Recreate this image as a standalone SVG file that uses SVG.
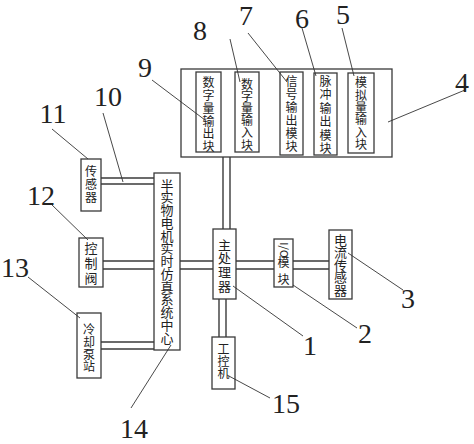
<svg xmlns="http://www.w3.org/2000/svg" width="474" height="444" viewBox="0 0 474 444">
<style>
.box{fill:#fff;stroke:#3a3a3a;stroke-width:1.3}
.cn{font-family:"Noto Sans CJK SC","Noto Sans CJK JP",sans-serif;font-size:12px;fill:#222;text-anchor:middle}
.num{font-family:"Liberation Serif","Times New Roman",serif;font-size:28px;fill:#222;text-anchor:middle}
.dl{stroke:#3a3a3a;stroke-width:1.4;fill:none}
.ld{stroke:#333;stroke-width:0.9;fill:none}
</style>
<rect width="474" height="444" fill="#fff"/>
<g id="connectors">
<line class="dl" x1="101" y1="178" x2="154" y2="178"/><line class="dl" x1="101" y1="184" x2="154" y2="184"/>
<line class="dl" x1="103" y1="261" x2="154" y2="261"/><line class="dl" x1="103" y1="269" x2="154" y2="269"/>
<line class="dl" x1="101" y1="342" x2="154" y2="342"/><line class="dl" x1="101" y1="349" x2="154" y2="349"/>
<line class="dl" x1="180" y1="261" x2="213" y2="261"/><line class="dl" x1="180" y1="269" x2="213" y2="269"/>
<line class="dl" x1="236" y1="261" x2="274" y2="261"/><line class="dl" x1="236" y1="269" x2="274" y2="269"/>
<line class="dl" x1="293" y1="261" x2="329" y2="261"/><line class="dl" x1="293" y1="269" x2="329" y2="269"/>
<line class="dl" x1="223" y1="157" x2="223" y2="229"/><line class="dl" x1="230" y1="157" x2="230" y2="229"/>
<line class="dl" x1="219" y1="299" x2="219" y2="337"/><line class="dl" x1="226" y1="299" x2="226" y2="337"/>
</g>
<g id="n4"><rect class="box" x="181" y="69" width="211" height="88"/></g>
<g id="n9"><rect class="box" x="196" y="72" width="25" height="80"/>
<text class="cn" x="208.5 208.5 208.5 208.5 208.5 208.5" y="87 100 113 126 138 151">数字量输出块</text></g>
<g id="n8"><rect class="box" x="235" y="72" width="24" height="80"/>
<text class="cn" x="247 247 247 247 247 247" y="89 101 113 125 137 150">数字量输入块</text></g>
<g id="n7"><rect class="box" x="280" y="72" width="23" height="83"/>
<text class="cn" x="291.5 291.5 291.5 291.5 291.5 291.5" y="86 99 112 125 138 151">信号输出模块</text></g>
<g id="n6"><rect class="box" x="314" y="73" width="23" height="82"/>
<text class="cn" x="325.5 325.5 325.5 325.5 325.5 325.5" y="86 99 113 126 140 153">脉冲输出模块</text></g>
<g id="n5"><rect class="box" x="348" y="73" width="26" height="80"/>
<text class="cn" x="361 361 361 361 361 361" y="87 100 112 124 137 149">模拟量输入块</text></g>
<g id="n11"><rect class="box" x="81" y="159" width="20" height="52"/>
<text class="cn" x="91 91 91" y="176 189 202">传感器</text></g>
<g id="n12"><rect class="box" x="79" y="238" width="24" height="49"/>
<text class="cn" style="font-size:13px" x="91 91 91" y="253 268 283">控制阀</text></g>
<g id="n13"><rect class="box" x="77" y="313" width="24" height="65"/>
<text class="cn" x="89 89 89 89" y="334 347 359 371">冷却泵站</text></g>
<g id="n14"><rect class="box" x="154" y="173" width="26" height="177"/>
<text class="cn" style="font-size:13px" x="167 167 167 167 167 167 167 167 167 167 167 167 167" y="189.5 202.2 215 227.7 240.5 253.2 266 278.7 291.5 304.2 317 329.7 342.5">半实物电机实时仿真系统中心</text></g>
<g id="n1"><rect class="box" x="213" y="229" width="23" height="70"/>
<text class="cn" style="font-size:13px" x="224.5 224.5 224.5 224.5" y="250 263 277 291">主处理器</text></g>
<g id="n2"><rect class="box" x="274" y="239" width="19" height="48"/>
<text class="cn" style="font-size:11px" transform="translate(283.5,250) rotate(90)" x="0" y="4">I/O</text>
<text class="cn" x="283.5 283.5" y="267 284">模块</text></g>
<g id="n3"><rect class="box" x="329" y="230" width="23" height="69"/>
<text class="cn" style="font-size:13px" x="340.5 340.5 340.5 340.5 340.5" y="244.5 257 269.5 282 294.5">电流传感器</text></g>
<g id="n15"><rect class="box" x="212" y="337" width="23" height="52"/>
<text class="cn" x="223.5 223.5 223.5" y="354 366 378">工控机</text></g>
<g id="leaders">
<line class="ld" x1="152" y1="80" x2="205" y2="120"/>
<line class="ld" x1="230" y1="39" x2="240" y2="82"/>
<line class="ld" x1="248" y1="33" x2="287" y2="82"/>
<line class="ld" x1="302" y1="28" x2="316" y2="76"/>
<line class="ld" x1="342" y1="28" x2="354" y2="76"/>
<line class="ld" x1="465" y1="90" x2="388" y2="122"/>
<line class="ld" x1="52" y1="129" x2="88" y2="159"/>
<line class="ld" x1="103" y1="113" x2="123" y2="182"/>
<line class="ld" x1="50" y1="203" x2="88" y2="240"/>
<line class="ld" x1="28" y1="277" x2="80" y2="318"/>
<line class="ld" x1="131" y1="408" x2="171" y2="345"/>
<line class="ld" x1="227" y1="375" x2="270" y2="398"/>
<line class="ld" x1="233" y1="286" x2="303" y2="336"/>
<line class="ld" x1="293" y1="285" x2="357" y2="328"/>
<line class="ld" x1="348" y1="253" x2="403" y2="290"/>
</g>
<g id="labels">
<text class="num" x="145" y="77">9</text>
<text class="num" x="200" y="40">8</text>
<text class="num" x="246" y="25">7</text>
<text class="num" x="302" y="28">6</text>
<text class="num" x="343" y="24">5</text>
<text class="num" x="462" y="92">4</text>
<text class="num" x="53" y="123">11</text>
<text class="num" x="108" y="106">10</text>
<text class="num" x="41" y="205">12</text>
<text class="num" x="15" y="277">13</text>
<text class="num" x="134" y="438">14</text>
<text class="num" x="286" y="413">15</text>
<text class="num" x="310" y="355">1</text>
<text class="num" x="365" y="343">2</text>
<text class="num" x="408" y="308">3</text>
</g>
</svg>
